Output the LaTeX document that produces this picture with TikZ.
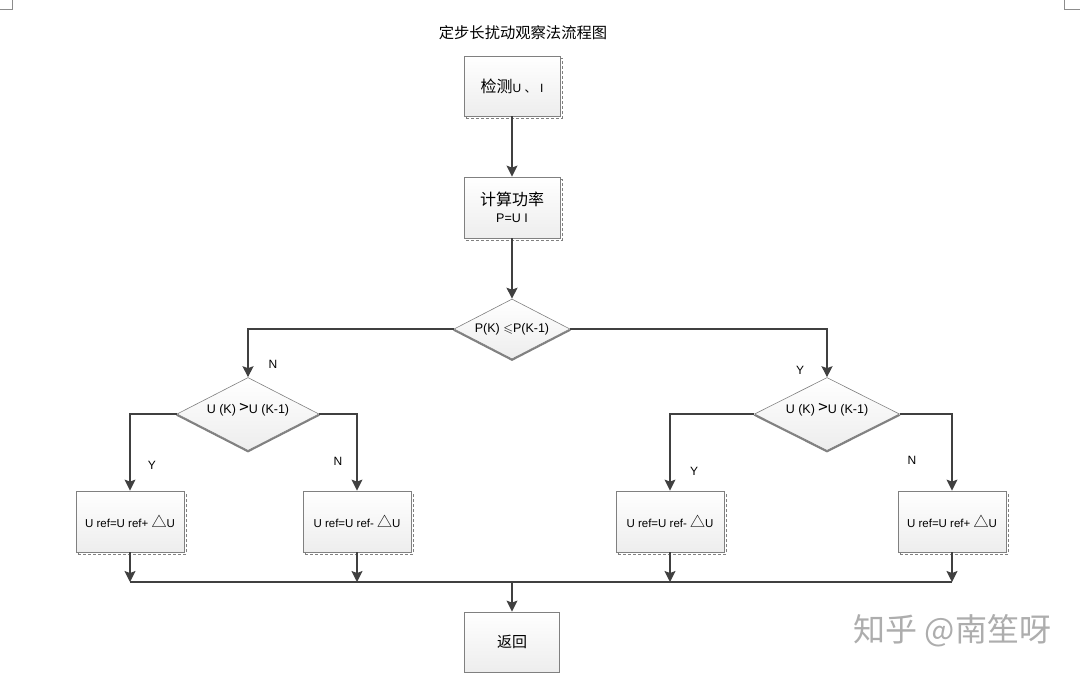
\documentclass[tikz,border=0pt]{standalone}
\usepackage{amssymb}
\usepackage{fontspec}
\setmainfont{Liberation Sans}
\newfontfamily\cjk{Noto Sans CJK SC}
\usetikzlibrary{arrows.meta,shadows,shapes.geometric}
\definecolor{linecolor}{rgb}{0.25, 0.25, 0.25}
\definecolor{boxbottom}{rgb}{0.93, 0.93, 0.93}
\tikzset{
  flowbox/.style={rectangle,draw=gray,line width=0.8pt,top color=white,bottom color=boxbottom,
    inner sep=0pt,align=center,font=\fontsize{11.5}{14}\selectfont,
    copy shadow={shadow xshift=2pt,shadow yshift=-2pt,draw=gray,densely dashed,line width=0.6pt,fill=white}},
  flowdiamond/.style={diamond,shape aspect=1.95,draw=gray,line width=0.6pt,top color=white,bottom color=boxbottom,
    inner sep=0pt,font=\fontsize{12.5}{14}\selectfont,
    copy shadow={shadow xshift=0pt,shadow yshift=-1.5pt,draw=gray,line width=1pt,fill=gray}},
  flowline/.style={draw=linecolor,line width=1.2pt},
  flowarrow/.style={flowline,-{Stealth[length=11pt,width=11pt,inset=2pt]}},
  flowlabel/.style={font=\fontsize{12}{13}\selectfont,text=black,inner sep=0pt},
  cropmark/.style={draw=black!45,line width=1pt},
}
\newcommand{\hanzi}[2]{{\cjk\fontsize{#1}{#1}\selectfont #2}}
\newcommand{\tri}{\hanzi{15}{△}}
\newcommand{\upper}[1]{\raisebox{0.5pt}[0pt][0pt]{#1}}
\begin{document}
\begin{tikzpicture}[x=1pt,y=-1pt]
\useasboundingbox (0,0) rectangle (1080,676);
% page corners
\draw[cropmark] (12,0) -- (12,9.5) -- (0,9.5);
\draw[cropmark] (1064,0) -- (1064,10) -- (1080,10);
\node[inner sep=0pt] (title) at (523,33) {\hanzi{15.3}{定步长扰动观察法流程图}};
% boxes
\node[flowbox,minimum width=96pt,minimum height=60pt] (measure) at (512,86) {\hanzi{16}{检测}{\fontsize{12}{12}\selectfont U \hanzi{12}{、} I}};
\node[flowbox,minimum width=96pt,minimum height=61pt] (power) at (512,207.5) {\hanzi{16}{计算功率}\\[3pt]{\fontsize{12.5}{14}\selectfont P=U I}};
\node[flowdiamond,minimum width=116pt,minimum height=60pt] (cmpP) at (512,329) {P(K) $\leqslant$P(K-1)};
\node[flowdiamond,minimum width=142pt,minimum height=73pt] (cmpL) at (248,414) {\upper{U (K) \hanzi{17}{>}U (K-1)}};
\node[flowdiamond,minimum width=145pt,minimum height=73pt] (cmpR) at (827,414) {\upper{U (K) \hanzi{17}{>}U (K-1)}};
\node[flowbox,minimum width=108pt,minimum height=61pt] (refA) at (130,521.5) {U ref=U ref+ \tri U};
\node[flowbox,minimum width=108pt,minimum height=61pt] (refB) at (357,521.5) {U ref=U ref- \tri U};
\node[flowbox,minimum width=108pt,minimum height=61pt] (refC) at (670,521.5) {U ref=U ref- \tri U};
\node[flowbox,minimum width=108pt,minimum height=61pt] (refD) at (952,521.5) {U ref=U ref+ \tri U};
\node[rectangle,draw=gray,line width=0.8pt,top color=white,bottom color=boxbottom,inner sep=0pt,
  minimum width=95pt,minimum height=60pt] (back) at (512,642) {\hanzi{15}{返回}};
% bus
\coordinate (busL) at (130,582);
\coordinate (busB) at (357,582);
\coordinate (busM) at (512,582);
\coordinate (busC) at (670,582);
\coordinate (busR) at (952,582);
% connectors
\draw[flowarrow] (measure) -- (power);
\draw[flowarrow] (power) -- (cmpP);
\draw[flowarrow] (cmpP.west) -| (cmpL.north);
\draw[flowarrow] (cmpP.east) -| (cmpR.north);
\draw[flowarrow] (cmpL.west) -| (refA.north);
\draw[flowarrow] (cmpL.east) -| (refB.north);
\draw[flowarrow] (cmpR.west) -| (refC.north);
\draw[flowarrow] (cmpR.east) -| (refD.north);
\draw[flowarrow] (refA.south) -- (busL);
\draw[flowarrow] (refB.south) -- (busB);
\draw[flowarrow] (refC.south) -- (busC);
\draw[flowarrow] (refD.south) -- (busR);
\draw[flowline] (busL) -- (busR);
\draw[flowarrow] (busM) -- (back);
% labels
\node[flowlabel] (labN1) at (273,364) {N};
\node[flowlabel] (labY1) at (800,370) {Y};
\node[flowlabel] (labY2) at (152,465) {Y};
\node[flowlabel] (labN2) at (338,461) {N};
\node[flowlabel] (labY3) at (694,471) {Y};
\node[flowlabel] (labN3) at (912,460) {N};
% watermark
\node[inner sep=0pt,text=black!32] (mark) at (952.5,631) {\hanzi{32}{知乎 @南笙呀}};
\end{tikzpicture}
\end{document}
